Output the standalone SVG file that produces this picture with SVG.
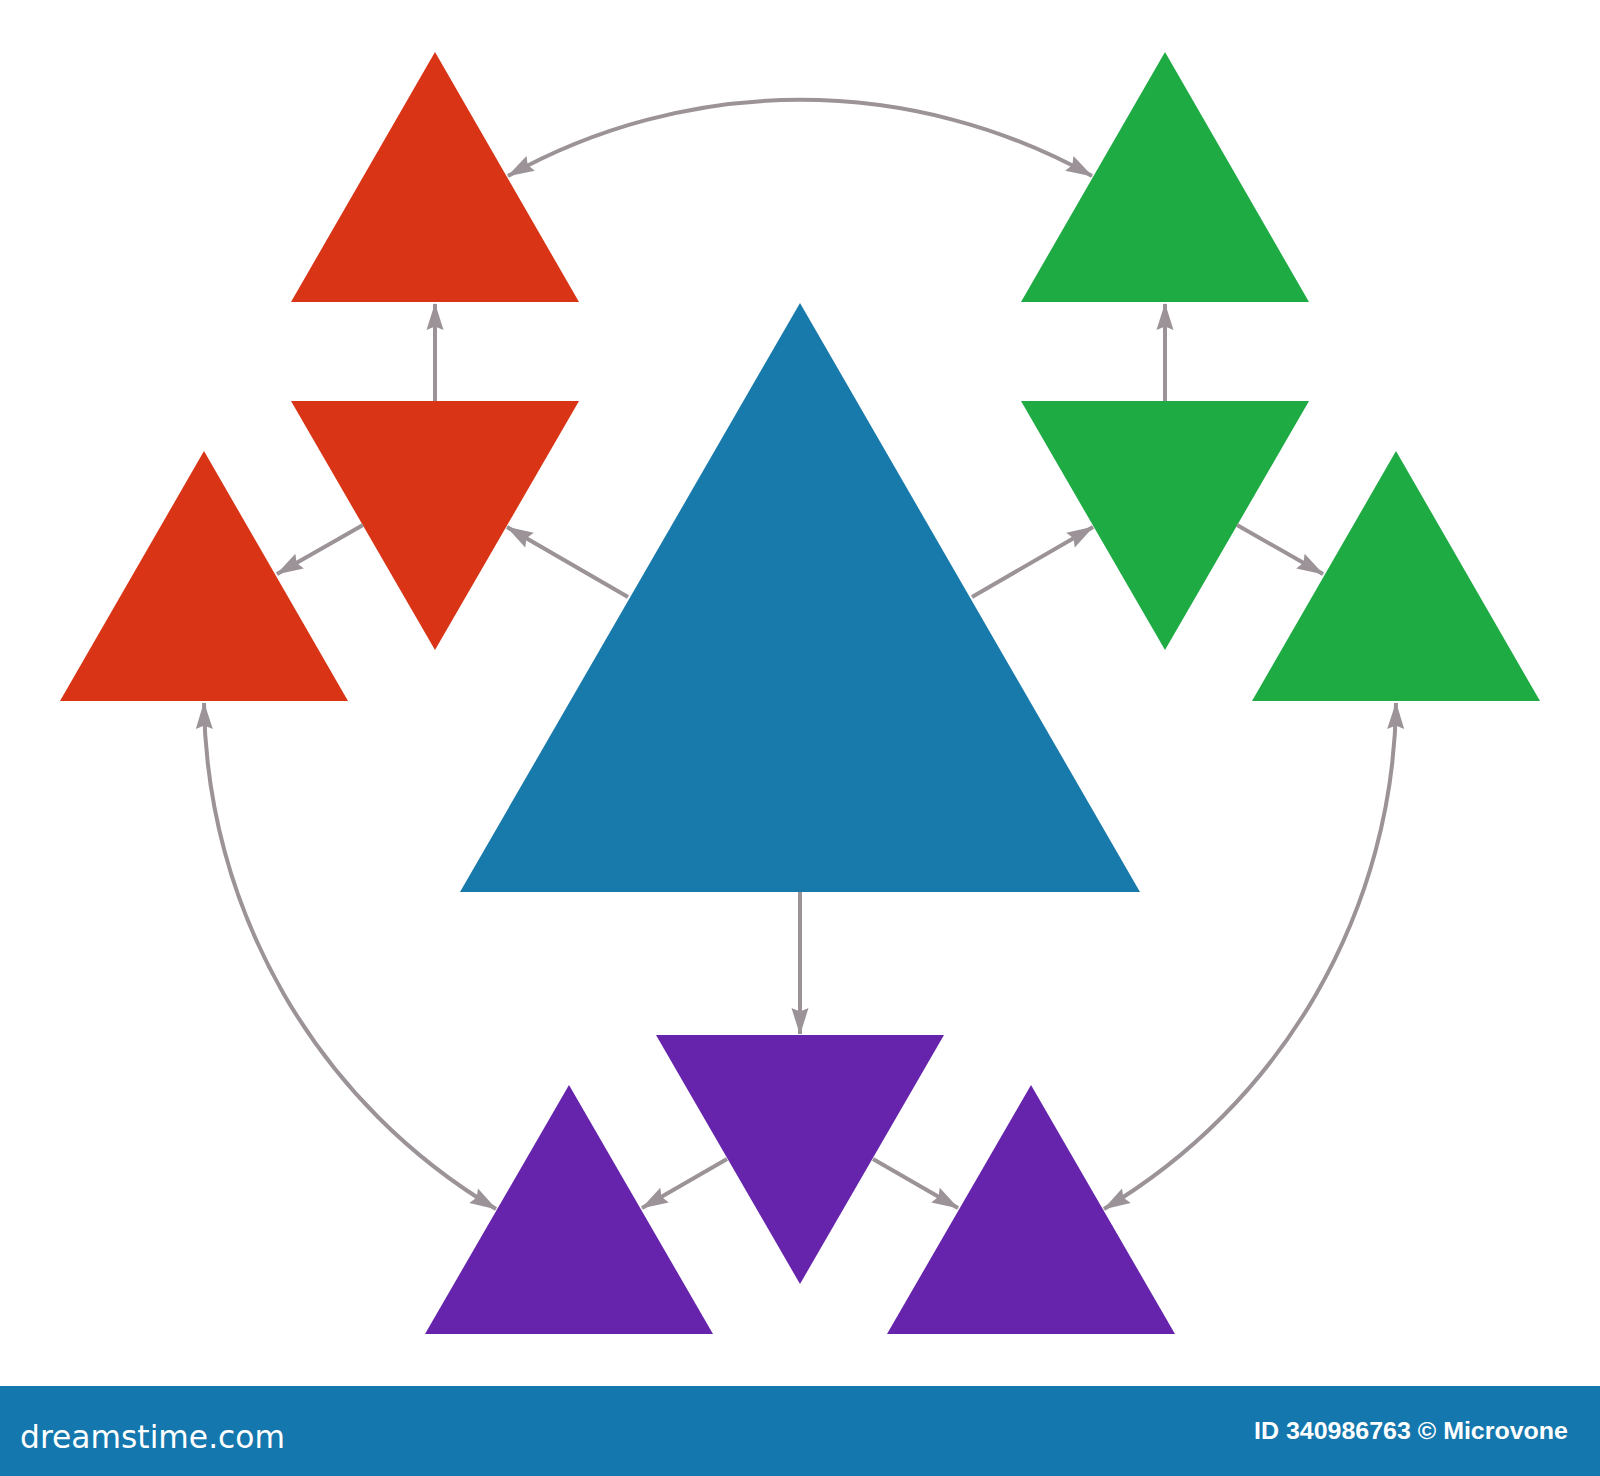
<svg xmlns="http://www.w3.org/2000/svg" width="1600" height="1476" viewBox="0 0 1600 1476">
<style>
.red{fill:#d93415}
.green{fill:#1fab44}
.blue{fill:#1879ab}
.purple{fill:#6624ac}
.conn{fill:none;stroke:#9b9397;stroke-width:4}
.banner{fill:#1477ad}
.btxt{fill:#ffffff;font-family:"DejaVu Sans","Liberation Sans",sans-serif}
.btxt2{fill:#ffffff;font-family:"Liberation Sans",Arial,sans-serif}
</style>
<defs>
<marker id="ah" viewBox="-28 -11 30 22" refX="0" refY="0" markerWidth="30" markerHeight="22" markerUnits="userSpaceOnUse" orient="auto-start-reverse">
<path d="M1,0 L-26,-8.5 L-22.5,0 L-26,8.5 Z" fill="#9b9397"/>
</marker>
</defs>
<rect width="1600" height="1476" fill="#ffffff"/>

<g id="red-top"><polygon class="red" points="435,52 291,302 579,302"/></g>
<g id="red-mid"><polygon class="red" points="291,401 579,401 435,650"/></g>
<g id="red-left"><polygon class="red" points="204,451 60,701 348,701"/></g>
<g id="green-top"><polygon class="green" points="1165,52 1021,302 1309,302"/></g>
<g id="green-mid"><polygon class="green" points="1021,401 1309,401 1165,650"/></g>
<g id="green-right"><polygon class="green" points="1396,451 1252,701 1540,701"/></g>
<g id="blue-center"><polygon class="blue" points="800,303 460,892 1140,892"/></g>
<g id="purple-mid"><polygon class="purple" points="656,1035 944,1035 800,1284"/></g>
<g id="purple-left"><polygon class="purple" points="569,1085 425,1334 713,1334"/></g>
<g id="purple-right"><polygon class="purple" points="1031,1085 887,1334 1175,1334"/></g>

<g id="connectors">
<path class="conn" d="M435 401 L435 304" marker-end="url(#ah)"/>
<path class="conn" d="M1165 401 L1165 304" marker-end="url(#ah)"/>
<path class="conn" d="M628 597 L507 527" marker-end="url(#ah)"/>
<path class="conn" d="M972 597 L1093 527" marker-end="url(#ah)"/>
<path class="conn" d="M363 525 L277 574" marker-end="url(#ah)"/>
<path class="conn" d="M1237 525 L1323 574" marker-end="url(#ah)"/>
<path class="conn" d="M800 892 L800 1034" marker-end="url(#ah)"/>
<path class="conn" d="M727 1159 L642 1208" marker-end="url(#ah)"/>
<path class="conn" d="M873 1159 L958 1208" marker-end="url(#ah)"/>
<path class="conn" d="M508 176 A598 598 0 0 1 1092 176" marker-start="url(#ah)" marker-end="url(#ah)"/>
<path class="conn" d="M204 703 A597 597 0 0 0 496 1209" marker-start="url(#ah)" marker-end="url(#ah)"/>
<path class="conn" d="M1396 703 A597 597 0 0 1 1104 1209" marker-start="url(#ah)" marker-end="url(#ah)"/>
</g>

<g id="banner">
<rect class="banner" x="0" y="1386" width="1600" height="90"/>
<text class="btxt" x="20" y="1448" font-size="32" textLength="265" lengthAdjust="spacingAndGlyphs">dreamstime.com</text>
<text class="btxt2" x="1254" y="1439" font-size="24" font-weight="bold" textLength="314" lengthAdjust="spacingAndGlyphs">ID 340986763 © Microvone</text>
</g>
</svg>
